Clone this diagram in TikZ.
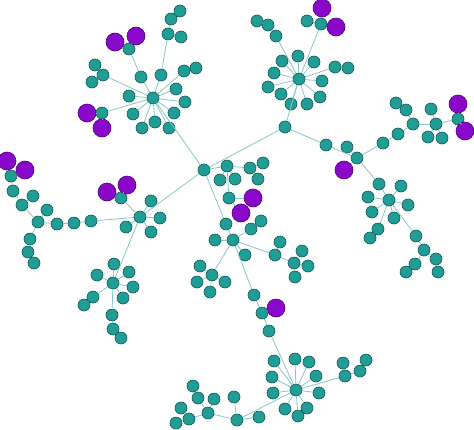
\documentclass[tikz,border=0pt]{standalone}
\usepackage{tikz}

\definecolor{tealfill}{RGB}{32,158,150}
\definecolor{tealline}{RGB}{14,86,82}
\definecolor{violetfill}{RGB}{138,8,204}
\definecolor{violetline}{RGB}{72,0,112}
\definecolor{linkcol}{RGB}{132,200,196}

\tikzset{
  atom/.style={circle, draw=tealline, fill=tealfill, line width=0.6pt, inner sep=0pt, minimum size=12pt},
  bigatom/.style={circle, draw=violetline, fill=violetfill, line width=0.6pt, inner sep=0pt, minimum size=18pt},
  link/.style={draw=linkcol, line width=0.8pt}
}

\begin{document}
\begin{tikzpicture}[x=1pt,y=-1pt]
\useasboundingbox (0,0) rectangle (474,429);

% small nodes
\foreach \n/\x/\y in {
  c/204/170, c1/227/166, c2/220/180, c3/235/179, c4/250/168, c5/263/163, c6/258/179, c7/229/198,
  a/153/98, a1/141/77, a2/129/49, a3/103/75, a4/95/65, a5/92/82, a6/129/96, a7/102/113,
  a8/133/114, a9/142/128, a10/155/122, a11/161/75, a12/168/34, a13/181/37, a14/171/19, a15/180/11,
  a16/184/71, a17/196/68, a18/176/89, a19/185/102, a20/174/113, a21/169/128,
  d/299/79, d1/285/127, d2/276/36, d3/268/25, d4/257/21, d5/321/24, d6/307/21,
  d7/298/56, d8/282/61, d9/314/62, d10/274/73, d11/335/67, d12/348/68, d13/322/81,
  d14/268/87, d15/281/94, d16/320/97, d17/291/104, d18/307/104,
  e/357/158, e1/326/145, e2/347/147, e3/383/143, e4/398/134, e5/413/124, e6/406/110, e7/396/103,
  e8/436/124, e9/431/109, e10/428/137, e11/442/138, e12/458/119,
  f/389/200, f1/379/184, f2/401/186, f3/368/197, f4/408/205, f5/372/212, f6/394/218, f7/378/229,
  f8/370/238, f9/416/236, f10/424/250, f11/436/259, f12/438/272, f13/415/264, f14/406/272,
  g/233/240, g1/226/224, g2/215/240, g3/251/229, g4/261/221, g5/245/255, g6/275/255, g7/280/242,
  g8/294/263, g9/302/251, g10/308/266, g11/295/277, g12/212/275, g13/200/266, g14/197/282,
  g15/225/282, g16/210/292, g17/254/295, g18/262/313, g19/269/331,
  h/296/390, h1/274/361, h2/295/359, h3/309/362, h4/316/376, h5/272/377, h6/273/393, h7/319/393,
  h8/285/409, h9/298/416, h10/307/408, h11/345/376, h12/343/363, h13/360/371, h14/366/360,
  h15/237/420, h16/259/417, h17/234/397, h18/208/413, h19/214/399, h20/198/398, h21/193/386,
  h22/189/419, h23/181/408, h24/176/423,
  b/140/217, b1/121/198, b2/151/201, b3/126/227, b4/151/232, b5/160/218, b6/91/221, b7/74/223, b8/57/224,
  i/38/222, i1/47/210, i2/22/205, i3/33/196, i4/13/191, i5/11/176, i6/30/239, i7/28/252, i8/34/263,
  j/113/283, j1/114/264, j2/97/275, j3/129/272, j4/133/287, j5/123/298, j6/93/297, j7/84/305,
  j8/112/315, j9/113/329, j10/121/338}
  \node[atom] (\n) at (\x,\y) {};

% large nodes
\foreach \n/\x/\y in {
  cp1/253/198, cp2/241/213, ap1/115/42, ap2/136/36, ap3/87/113, ap4/102/128,
  dp1/322/8, dp2/336/27, ep/344/170, ep2/458/104, ep3/465/131, gp/276/308,
  bp1/107/192, bp2/127/185, ip1/7/161, ip2/25/170}
  \node[bigatom] (\n) at (\x,\y) {};

% links
\foreach \u/\v in {
  c/a, c/b, c/d1, c/c1, c/g1,
  c1/c2, c1/c3, c1/c4, c4/c5, c4/c6, c1/c7, c7/cp1, c7/cp2,
  a/a1, a1/a2, a2/ap1, a2/ap2, a/a3, a3/a4, a3/a5, a/a6, a/a7, a7/ap3, a7/ap4,
  a/a8, a/a9, a/a10, a/a11, a11/a12, a12/a13, a12/a14, a14/a15, a/a16, a16/a17,
  a/a18, a/a19, a/a20, a/a21,
  d1/d, d/d2, d2/d3, d3/d4, d/d5, d5/d6, d5/dp1, d5/dp2, d/d7, d/d8, d/d9, d/d10, d/d11, d11/d12,
  d/d13, d/d14, d/d15, d/d16, d/d17, d/d18,
  d1/e1, e1/e, e/e2, e/ep, e/e3, e3/e4, e4/e5, e5/e6, e6/e7, e5/e8, e8/e9, e8/e10, e8/e11, e8/e12,
  e12/ep2, e12/ep3, e/f1, f1/f,
  f/f2, f/f3, f/f4, f/f5, f/f6, f/f7, f7/f8, f/f9, f9/f10, f10/f11, f11/f12, f10/f13, f13/f14,
  g1/g, g/g2, g/g3, g3/g4, g/g5, g/g6, g6/g7, g6/g8, g8/g9, g8/g10, g8/g11,
  g/g12, g12/g13, g12/g14, g12/g15, g12/g16, g/g17, g17/g18, g18/gp, g18/g19, g19/h,
  h/h1, h/h2, h/h3, h/h4, h/h5, h/h6, h/h7, h/h8, h/h9, h/h10, h/h11, h11/h12, h11/h13, h13/h14,
  h/h15, h15/h16, h15/h17, h15/h18, h18/h19, h18/h20, h20/h21, h18/h22, h22/h23, h22/h24,
  b/b1, b1/bp1, b1/bp2, b/b2, b/b3, b/b4, b/b5, b/b6, b6/b7, b7/b8, b8/i,
  i/i1, i/i2, i2/i3, i2/i4, i4/i5, i5/ip1, i5/ip2, i/i6, i6/i7, i7/i8,
  b/j, j/j1, j/j2, j/j3, j/j4, j/j5, j/j6, j6/j7, j/j8, j8/j9, j9/j10}
  \draw[link] (\u) -- (\v);

\end{tikzpicture}
\end{document}
